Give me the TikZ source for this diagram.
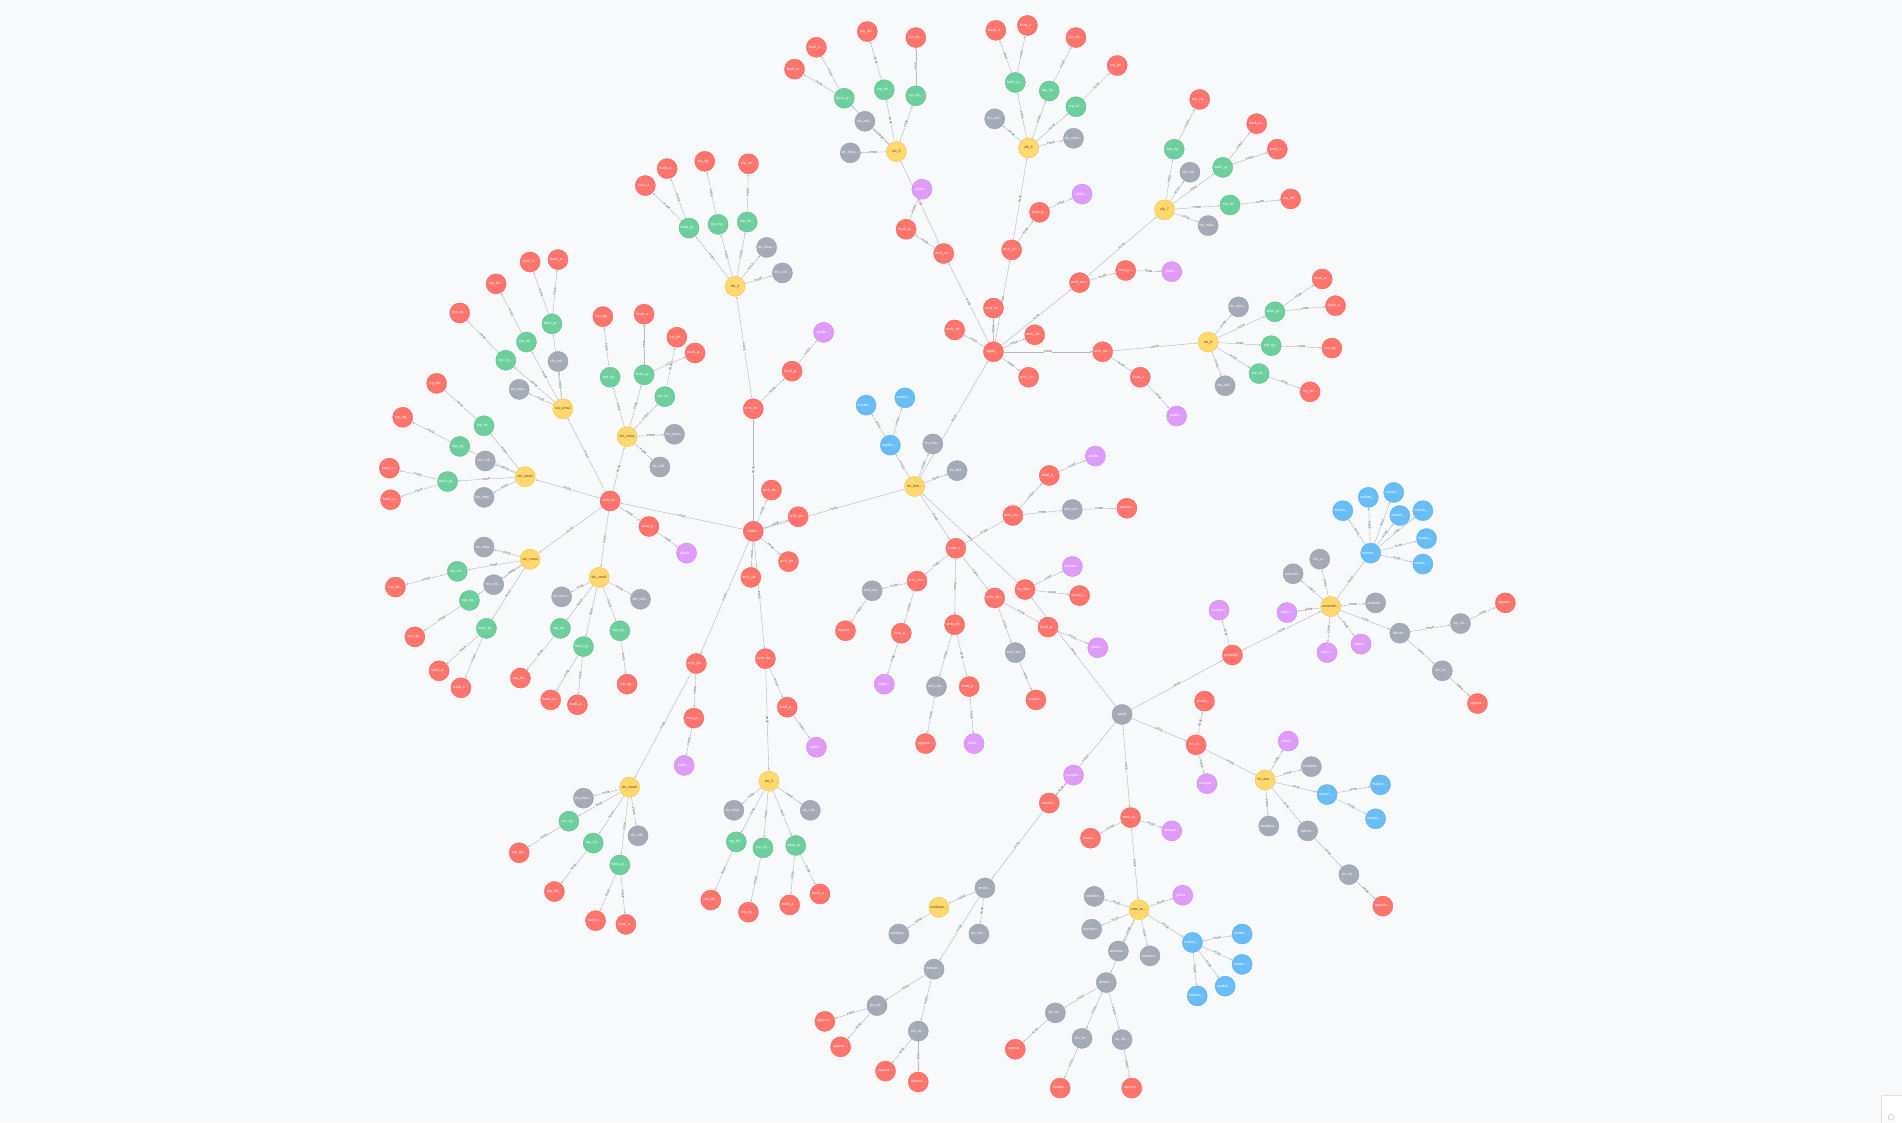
\documentclass[tikz,border=0pt]{standalone}
\usepackage{fontspec}
\setmainfont{Liberation Sans}
\usetikzlibrary{arrows.meta}
\definecolor{cRed}{HTML}{FF756E}\definecolor{cRedB}{HTML}{E8695F}
\definecolor{cGreen}{HTML}{6DCE9E}\definecolor{cGreenB}{HTML}{60BE8C}
\definecolor{cGray}{HTML}{A5ABB6}\definecolor{cGrayB}{HTML}{979DA8}
\definecolor{cYel}{HTML}{FFD86E}\definecolor{cYelB}{HTML}{EDC04A}\definecolor{cYelT}{HTML}{5A4A12}
\definecolor{cPur}{HTML}{DE9BF9}\definecolor{cPurB}{HTML}{CC88E8}
\definecolor{cBlue}{HTML}{68BDF6}\definecolor{cBlueB}{HTML}{5AAFE8}
\definecolor{cEdge}{HTML}{B4B9C2}\definecolor{cBg}{HTML}{F8F9FB}\definecolor{cLbl}{HTML}{444444}
\pgfdeclarelayer{back}\pgfdeclarelayer{edges}
\pgfsetlayers{back,edges,main}
\tikzset{
 nd/.style={circle,minimum size=0.83cm,inner sep=0pt,line width=0.4pt,font=\fontsize{4.2}{5}\selectfont,text=white},
 rd/.style={nd,fill=cRed,draw=cRedB},
 gn/.style={nd,fill=cGreen,draw=cGreenB},
 gy/.style={nd,fill=cGray,draw=cGrayB},
 yl/.style={nd,fill=cYel,draw=cYelB,text=cYelT},
 pp/.style={nd,fill=cPur,draw=cPurB},
 bl/.style={nd,fill=cBlue,draw=cBlueB},
 ed/.style={draw=cEdge,line width=0.5pt,-{Latex[length=2.6pt,width=2.2pt]}},
 lb/.style={font=\fontsize{3.3}{4}\selectfont,text=cLbl,fill=cBg,inner sep=0.6pt,sloped,midway}
}
\newcommand\edg[2]{\draw[ed] (#1) -- node[lb]{POSE} (#2);}
\begin{document}
\begin{tikzpicture}[x=0.05cm,y=-0.05cm]
\begin{pgfonlayer}{back}
\fill[cBg] (0,0) rectangle (1568,925);
\end{pgfonlayer}
\useasboundingbox (0,0) rectangle (1568,925);
% corner widget
\draw[fill=white,draw=gray!35,rounded corners=1.5] (1551,903) rectangle (1580,940);
\draw[gray!60,line width=0.4pt] (1559,921) circle (2.5);
% ===== center =====
\node[rd] (m) at (621,438) {middl…};
\node[rd] (m1) at (621,337) {arch\_slo…};
\node[rd] (m2) at (636,404) {arch\_slo…};
\node[rd] (m3) at (658,426) {arch\_slo…};
\node[rd] (m4) at (650,463) {arch\_slo…};
\node[rd] (m5) at (619,476) {arch\_slo…};
\node[rd] (m6) at (631,543) {arch\_slo…};
\node[rd] (m7) at (574,547) {arch\_slo…};
\node[rd] (as) at (503,413) {arch\_sl…};
\node[yl] (sf) at (754,401) {slo\_fixe…};
% m1 branch
\node[yl] (y1) at (606,236) {slo\_4};
\node[rd] (lp1) at (653,306) {local\_p…};
\node[pp] (pf1) at (679,274) {platfo…};
\node[gn] (y1a) at (568,188) {back\_gr…};
\node[rd] (y1ar1) at (532,153) {back\_a…};
\node[rd] (y1ar2) at (550,139) {back\_a…};
\node[gn] (y1b) at (592,185) {top\_rig…};
\node[rd] (y1br) at (581,133) {top\_rig…};
\node[gn] (y1c) at (616,183) {top\_lef…};
\node[rd] (y1cr) at (617,135) {top\_lef…};
\node[gy] (y1m) at (632,204) {slo\_miss…};
\node[gy] (y1k) at (645,225) {slo\_coll…};
% m6 branch
\node[yl] (y3) at (634,644) {slo\_3};
\node[rd] (lp6) at (649,583) {local\_p…};
\node[pp] (pf6) at (673,616) {platfo…};
\node[gy] (y3m) at (605,668) {slo\_miss…};
\node[gy] (y3k) at (668,668) {slo\_coll…};
\node[gn] (y3a) at (607,694) {top\_lef…};
\node[rd] (y3ar) at (586,742) {top\_lef…};
\node[gn] (y3b) at (629,699) {top\_rig…};
\node[rd] (y3br) at (617,752) {top\_rig…};
\node[gn] (y3c) at (656,697) {back\_gr…};
\node[rd] (y3cr1) at (651,746) {back\_a…};
\node[rd] (y3cr2) at (676,737) {back\_a…};
% m7 branch
\node[yl] (y6) at (519,649) {slo\_sma6};
\node[rd] (lp7) at (572,592) {local\_p…};
\node[pp] (pf7) at (564,631) {platfo…};
\node[gy] (y6m) at (481,658) {slo\_miss…};
\node[gn] (y6a) at (469,677) {top\_rig…};
\node[rd] (y6ar) at (428,703) {top\_rig…};
\node[gn] (y6b) at (489,695) {top\_lef…};
\node[rd] (y6br) at (457,735) {top\_lef…};
\node[gn] (y6c) at (511,713) {back\_gr…};
\node[rd] (y6cr1) at (491,759) {back\_a…};
\node[rd] (y6cr2) at (516,762) {back\_a…};
\node[gy] (y6k) at (526,689) {slo\_coll…};
% as branch
\node[yl] (s1) at (517,360) {slo\_sma1};
\node[yl] (s2) at (464,337) {slo\_sma2};
\node[yl] (s3) at (433,393) {slo\_sma3};
\node[yl] (s4) at (437,461) {slo\_sma4};
\node[yl] (s5) at (494,476) {slo\_sma5};
\node[rd] (lpa) at (535,434) {local\_p…};
\node[pp] (pfa) at (566,456) {platfo…};
\node[gy] (s1m) at (556,358) {slo\_miss…};
\node[gy] (s1k) at (544,385) {slo\_coll…};
\node[gn] (s1a) at (503,311) {top\_rig…};
\node[rd] (s1ar) at (497,261) {top\_rig…};
\node[gn] (s1b) at (531,309) {back\_gr…};
\node[rd] (s1br1) at (531,259) {back\_a…};
\node[rd] (s1br2) at (573,291) {back\_a…};
\node[gn] (s1c) at (548,327) {top\_lef…};
\node[rd] (s1cr) at (558,278) {top\_lef…};
\node[gy] (s2m) at (428,321) {slo\_miss…};
\node[gy] (s2k) at (460,298) {slo\_coll…};
\node[gn] (s2a) at (417,297) {top\_rig…};
\node[rd] (s2ar) at (379,258) {top\_rig…};
\node[gn] (s2b) at (434,282) {top\_lef…};
\node[rd] (s2br) at (409,234) {top\_lef…};
\node[gn] (s2c) at (455,267) {back\_gr…};
\node[rd] (s2cr1) at (437,216) {back\_a…};
\node[rd] (s2cr2) at (460,214) {back\_a…};
\node[gn] (s3a) at (399,351) {top\_lef…};
\node[rd] (s3ar) at (360,316) {top\_lef…};
\node[gn] (s3b) at (379,368) {top\_rig…};
\node[rd] (s3br) at (332,344) {top\_rig…};
\node[gy] (s3k) at (400,380) {slo\_coll…};
\node[gn] (s3c) at (369,397) {back\_gr…};
\node[rd] (s3cr1) at (321,386) {back\_a…};
\node[rd] (s3cr2) at (322,412) {back\_a…};
\node[gy] (s3m) at (399,410) {slo\_miss…};
\node[gy] (s4m) at (399,451) {slo\_miss…};
\node[gn] (s4a) at (377,471) {top\_lef…};
\node[rd] (s4ar) at (326,484) {top\_lef…};
\node[gy] (s4k) at (407,482) {slo\_coll…};
\node[gn] (s4b) at (387,495) {top\_rig…};
\node[rd] (s4br) at (342,525) {top\_rig…};
\node[gn] (s4c) at (401,518) {back\_gr…};
\node[rd] (s4cr1) at (362,553) {back\_a…};
\node[rd] (s4cr2) at (380,567) {back\_a…};
\node[gy] (s5m) at (463,492) {slo\_miss…};
\node[gy] (s5k) at (528,494) {slo\_coll…};
\node[gn] (s5a) at (462,518) {top\_lef…};
\node[rd] (s5ar) at (429,559) {top\_lef…};
\node[gn] (s5b) at (481,533) {back\_gr…};
\node[rd] (s5br1) at (454,577) {back\_a…};
\node[rd] (s5br2) at (476,581) {back\_a…};
\node[gn] (s5c) at (511,520) {top\_rig…};
\node[rd] (s5cr) at (517,564) {top\_rig…};
% sf branch
\node[bl] (mk) at (734,367) {marker\_…};
\node[bl] (mk1) at (714,334) {marker\_…};
\node[bl] (mk2) at (746,328) {marker\_…};
\node[gy] (sfg1) at (769,366) {slo\_fixe…};
\node[gy] (sfg2) at (789,388) {slo\_fixe…};
\node[rd] (u) at (819,290) {upper\_…};
\node[rd] (l) at (788,452) {lower\_s…};
\node[rd] (sfr) at (845,486) {slo\_fixe…};
% u branch
\node[rd] (a1) at (819,254) {arch\_slo…};
\node[rd] (a2) at (834,206) {arch\_slo…};
\node[rd] (a3) at (778,209) {arch\_slo…};
\node[rd] (a4) at (787,272) {arch\_slo…};
\node[rd] (a5) at (853,276) {arch\_slo…};
\node[rd] (a6) at (890,233) {arch\_slo…};
\node[rd] (a7) at (909,290) {arch\_slo…};
\node[rd] (a8) at (848,311) {arch\_slo…};
\node[yl] (y5) at (848,122) {slo\_6};
\node[rd] (lp2) at (857,175) {local\_p…};
\node[pp] (pf2) at (892,160) {platfo…};
\node[yl] (y4) at (739,125) {slo\_5};
\node[rd] (lp3) at (747,189) {local\_p…};
\node[pp] (pf3) at (760,156) {platfo…};
\node[yl] (y7) at (960,173) {slo\_7};
\node[rd] (lp6b) at (928,223) {local\_p…};
\node[pp] (pf6b) at (966,224) {platfo…};
\node[yl] (y8) at (996,282) {slo\_8};
\node[rd] (lp7b) at (940,311) {local\_p…};
\node[pp] (pf7b) at (970,343) {platfo…};
\node[gy] (y4m) at (701,126) {slo\_miss…};
\node[gy] (y4k) at (713,100) {slo\_coll…};
\node[gn] (y4a) at (696,81) {back\_gr…};
\node[rd] (y4ar1) at (655,57) {back\_a…};
\node[rd] (y4ar2) at (673,39) {back\_a…};
\node[gn] (y4b) at (729,74) {top\_lef…};
\node[rd] (y4br) at (715,26) {top\_lef…};
\node[gn] (y4c) at (755,79) {top\_rig…};
\node[rd] (y4cr) at (755,31) {top\_rig…};
\node[gy] (y5k) at (820,98) {slo\_coll…};
\node[gy] (y5m) at (885,114) {slo\_miss…};
\node[gn] (y5a) at (837,68) {back\_gr…};
\node[rd] (y5ar1) at (821,25) {back\_a…};
\node[rd] (y5ar2) at (847,21) {back\_a…};
\node[gn] (y5b) at (865,75) {top\_rig…};
\node[rd] (y5br) at (887,31) {top\_rig…};
\node[gn] (y5c) at (887,88) {top\_lef…};
\node[rd] (y5cr) at (921,54) {top\_lef…};
\node[gn] (y7a) at (968,123) {top\_rig…};
\node[rd] (y7ar) at (989,82) {top\_rig…};
\node[gy] (y7k) at (981,142) {slo\_coll…};
\node[gn] (y7b) at (1008,138) {back\_gr…};
\node[rd] (y7br1) at (1036,102) {back\_a…};
\node[rd] (y7br2) at (1053,123) {back\_a…};
\node[gn] (y7c) at (1014,169) {top\_lef…};
\node[rd] (y7cr) at (1064,164) {top\_lef…};
\node[gy] (y7m) at (996,186) {slo\_miss…};
\node[gy] (y8m) at (1021,253) {slo\_miss…};
\node[gn] (y8a) at (1051,257) {back\_gr…};
\node[rd] (y8ar1) at (1090,230) {back\_a…};
\node[rd] (y8ar2) at (1101,252) {back\_a…};
\node[gn] (y8b) at (1048,285) {top\_rig…};
\node[rd] (y8br) at (1098,287) {top\_rig…};
\node[gn] (y8c) at (1038,308) {top\_lef…};
\node[rd] (y8cr) at (1080,323) {top\_lef…};
\node[gy] (y8k) at (1010,318) {slo\_coll…};
% l branch
\node[rd] (b1) at (835,425) {arch\_slo…};
\node[rd] (b1l) at (865,392) {local\_p…};
\node[pp] (b1p) at (903,376) {platfo…};
\node[gy] (b1g) at (884,420) {arch\_slo…};
\node[rd] (b1r) at (929,419) {approa…};
\node[rd] (b2) at (756,479) {arch\_slo…};
\node[gy] (b2g) at (719,487) {arch\_slo…};
\node[rd] (b2r) at (697,520) {approa…};
\node[rd] (b2l) at (743,522) {local\_p…};
\node[pp] (b2p) at (729,564) {platfo…};
\node[rd] (b3) at (787,515) {arch\_slo…};
\node[gy] (b3g) at (772,566) {arch\_slo…};
\node[rd] (b3r) at (763,613) {approa…};
\node[rd] (b3l) at (799,566) {local\_p…};
\node[pp] (b3p) at (803,613) {platfo…};
\node[rd] (b4) at (820,493) {arch\_slo…};
\node[gy] (b4g) at (837,538) {arch\_slo…};
\node[rd] (b4r) at (854,577) {approa…};
\node[rd] (b4l) at (864,517) {local\_p…};
\node[pp] (b4p) at (905,534) {platfo…};
% sfr / world
\node[pp] (sfn) at (884,467) {navigati…};
\node[rd] (sfv) at (890,491) {visual\_r…};
\node[gy] (w) at (925,589) {world};
\node[rd] (ar) at (1016,540) {assembl…};
\node[rd] (hr) at (986,614) {hri\_sv…};
\node[rd] (hd) at (865,662) {handlin…};
\node[pp] (nv) at (885,639) {navigati…};
\node[rd] (hm) at (932,674) {sme\_su…};
\node[pp] (arn) at (1005,503) {navigati…};
\node[yl] (ay) at (1097,500) {assembl…};
\node[pp] (ay1) at (1061,505) {platfo…};
\node[gy] (ay2) at (1066,473) {assembl…};
\node[gy] (ay3) at (1088,461) {loc\_a…};
\node[bl] (mh) at (1130,456) {marker\_…};
\node[gy] (ay4) at (1134,497) {assembl…};
\node[gy] (dl) at (1154,522) {deliver…};
\node[pp] (ay5) at (1122,531) {platfo…};
\node[pp] (ay6) at (1094,538) {platfo…};
\node[bl] (mh1) at (1107,421) {marker\_…};
\node[bl] (mh2) at (1128,410) {marker\_…};
\node[bl] (mh3) at (1149,406) {marker\_…};
\node[bl] (mh4) at (1154,425) {marker\_…};
\node[bl] (mh5) at (1173,421) {marker\_…};
\node[bl] (mh6) at (1176,444) {marker\_…};
\node[bl] (mh7) at (1173,465) {marker\_…};
\node[gy] (dls1) at (1204,514) {slo\_str…};
\node[rd] (dlr1) at (1241,497) {approa…};
\node[gy] (dls2) at (1189,553) {slo\_str…};
\node[rd] (dlr2) at (1218,580) {approa…};
\node[rd] (hrv) at (993,578) {visual\_r…};
\node[pp] (hrn) at (995,646) {navigati…};
\node[yl] (hw) at (1043,643) {hri\_wor…};
\node[pp] (hw1) at (1062,611) {platfo…};
\node[gy] (hw2) at (1081,632) {workben…};
\node[bl] (hmk) at (1094,655) {marker\_…};
\node[bl] (hmk1) at (1138,647) {marker\_…};
\node[bl] (hmk2) at (1134,675) {marker\_…};
\node[gy] (hw3) at (1046,681) {workben…};
\node[gy] (hwd) at (1078,685) {deliver…};
\node[gy] (hws) at (1112,721) {slo\_str…};
\node[rd] (hwr) at (1140,747) {approa…};
\node[gy] (en) at (812,732) {enviro…};
\node[yl] (wy) at (774,748) {workspa…};
\node[gy] (wyg) at (741,770) {workspa…};
\node[gy] (enl) at (807,770) {loc\_fixe…};
\node[gy] (tr) at (770,799) {transpo…};
\node[gy] (ss1) at (723,829) {slo\_str…};
\node[rd] (ss1r1) at (680,842) {approa…};
\node[rd] (ss1r2) at (693,863) {approa…};
\node[gy] (ss2) at (757,850) {slo\_str…};
\node[rd] (ss2r1) at (730,883) {approa…};
\node[rd] (ss2r2) at (757,892) {approa…};
\node[rd] (hmv) at (899,691) {visual\_r…};
\node[pp] (hmn) at (966,685) {navigati…};
\node[yl] (sa) at (939,750) {sme\_as…};
\node[gy] (sa1) at (902,739) {workben…};
\node[gy] (sa2) at (900,766) {workben…};
\node[gy] (sa3) at (922,784) {workben…};
\node[gy] (sa4) at (948,788) {workben…};
\node[pp] (sap) at (975,738) {platfo…};
\node[bl] (smk) at (983,777) {marker\_…};
\node[bl] (smk1) at (1024,770) {marker\_…};
\node[bl] (smk2) at (1024,795) {marker\_…};
\node[bl] (smk3) at (1010,813) {marker\_…};
\node[bl] (smk4) at (987,821) {marker\_…};
\node[gy] (dv) at (912,810) {deliver…};
\node[gy] (dvs1) at (870,835) {slo\_str…};
\node[rd] (dvr1) at (837,865) {approa…};
\node[gy] (dvs2) at (892,856) {slo\_str…};
\node[rd] (dvr2) at (874,897) {approa…};
\node[gy] (dvs3) at (925,857) {slo\_str…};
\node[rd] (dvr3) at (933,897) {approa…};
\begin{pgfonlayer}{edges}
\edg{m}{as}\edg{m}{m1}\edg{m}{m2}\edg{m}{m3}\edg{m}{m4}\edg{m}{m5}\edg{m}{m6}\edg{m}{m7}\edg{sf}{m}
\edg{m1}{y1}\edg{m1}{lp1}\edg{lp1}{pf1}
\edg{y1}{y1a}\edg{y1a}{y1ar1}\edg{y1a}{y1ar2}\edg{y1}{y1b}\edg{y1b}{y1br}\edg{y1}{y1c}\edg{y1c}{y1cr}\edg{y1}{y1m}\edg{y1}{y1k}
\edg{m6}{y3}\edg{m6}{lp6}\edg{lp6}{pf6}
\edg{y3}{y3m}\edg{y3}{y3k}\edg{y3}{y3a}\edg{y3a}{y3ar}\edg{y3}{y3b}\edg{y3b}{y3br}\edg{y3}{y3c}\edg{y3c}{y3cr1}\edg{y3c}{y3cr2}
\edg{m7}{y6}\edg{m7}{lp7}\edg{lp7}{pf7}
\edg{y6}{y6m}\edg{y6}{y6a}\edg{y6a}{y6ar}\edg{y6}{y6b}\edg{y6b}{y6br}\edg{y6}{y6c}\edg{y6c}{y6cr1}\edg{y6c}{y6cr2}\edg{y6}{y6k}
\edg{as}{s1}\edg{as}{s2}\edg{as}{s3}\edg{as}{s4}\edg{as}{s5}\edg{as}{lpa}\edg{lpa}{pfa}
\edg{s1}{s1m}\edg{s1}{s1k}\edg{s1}{s1a}\edg{s1a}{s1ar}\edg{s1}{s1b}\edg{s1b}{s1br1}\edg{s1b}{s1br2}\edg{s1}{s1c}\edg{s1c}{s1cr}
\edg{s2}{s2m}\edg{s2}{s2k}\edg{s2}{s2a}\edg{s2a}{s2ar}\edg{s2}{s2b}\edg{s2b}{s2br}\edg{s2}{s2c}\edg{s2c}{s2cr1}\edg{s2c}{s2cr2}
\edg{s3}{s3a}\edg{s3a}{s3ar}\edg{s3}{s3b}\edg{s3b}{s3br}\edg{s3}{s3k}\edg{s3}{s3c}\edg{s3c}{s3cr1}\edg{s3c}{s3cr2}\edg{s3}{s3m}
\edg{s4}{s4m}\edg{s4}{s4a}\edg{s4a}{s4ar}\edg{s4}{s4k}\edg{s4}{s4b}\edg{s4b}{s4br}\edg{s4}{s4c}\edg{s4c}{s4cr1}\edg{s4c}{s4cr2}
\edg{s5}{s5m}\edg{s5}{s5k}\edg{s5}{s5a}\edg{s5a}{s5ar}\edg{s5}{s5b}\edg{s5b}{s5br1}\edg{s5b}{s5br2}\edg{s5}{s5c}\edg{s5c}{s5cr}
\edg{sf}{mk}\edg{mk}{mk1}\edg{mk}{mk2}\edg{sf}{sfg1}\edg{sf}{sfg2}\edg{sf}{u}\edg{sf}{l}\edg{sfr}{sf}
\edg{u}{a1}\edg{u}{a2}\edg{u}{a3}\edg{u}{a4}\edg{u}{a5}\edg{u}{a6}\edg{u}{a7}\edg{u}{a8}
\edg{a2}{y5}\edg{a2}{lp2}\edg{lp2}{pf2}
\edg{a3}{y4}\edg{a3}{lp3}\edg{lp3}{pf3}
\edg{a6}{y7}\edg{a6}{lp6b}\edg{lp6b}{pf6b}
\edg{a7}{y8}\edg{a7}{lp7b}\edg{lp7b}{pf7b}
\edg{y4}{y4m}\edg{y4}{y4k}\edg{y4}{y4a}\edg{y4a}{y4ar1}\edg{y4a}{y4ar2}\edg{y4}{y4b}\edg{y4b}{y4br}\edg{y4}{y4c}\edg{y4c}{y4cr}
\edg{y5}{y5k}\edg{y5}{y5m}\edg{y5}{y5a}\edg{y5a}{y5ar1}\edg{y5a}{y5ar2}\edg{y5}{y5b}\edg{y5b}{y5br}\edg{y5}{y5c}\edg{y5c}{y5cr}
\edg{y7}{y7a}\edg{y7a}{y7ar}\edg{y7}{y7k}\edg{y7}{y7b}\edg{y7b}{y7br1}\edg{y7b}{y7br2}\edg{y7}{y7c}\edg{y7c}{y7cr}\edg{y7}{y7m}
\edg{y8}{y8m}\edg{y8}{y8a}\edg{y8a}{y8ar1}\edg{y8a}{y8ar2}\edg{y8}{y8b}\edg{y8b}{y8br}\edg{y8}{y8c}\edg{y8c}{y8cr}\edg{y8}{y8k}
\edg{l}{b1}\edg{b1}{b1l}\edg{b1l}{b1p}\edg{b1}{b1g}\edg{b1g}{b1r}
\edg{l}{b2}\edg{b2}{b2g}\edg{b2g}{b2r}\edg{b2}{b2l}\edg{b2l}{b2p}
\edg{l}{b3}\edg{b3}{b3g}\edg{b3g}{b3r}\edg{b3}{b3l}\edg{b3l}{b3p}
\edg{l}{b4}\edg{b4}{b4g}\edg{b4g}{b4r}\edg{b4}{b4l}\edg{b4l}{b4p}
\edg{sfr}{sfn}\edg{sfr}{sfv}\edg{w}{sfr}
\edg{w}{ar}\edg{ar}{arn}\edg{ar}{ay}
\edg{ay}{ay1}\edg{ay}{ay2}\edg{ay}{ay3}\edg{ay}{mh}\edg{ay}{ay4}\edg{ay}{dl}\edg{ay}{ay5}\edg{ay}{ay6}
\edg{mh}{mh1}\edg{mh}{mh2}\edg{mh}{mh3}\edg{mh}{mh4}\edg{mh}{mh5}\edg{mh}{mh6}\edg{mh}{mh7}
\edg{dl}{dls1}\edg{dls1}{dlr1}\edg{dl}{dls2}\edg{dls2}{dlr2}
\edg{w}{hr}\edg{hr}{hrv}\edg{hr}{hrn}\edg{hr}{hw}
\edg{hw}{hw1}\edg{hw}{hw2}\edg{hw}{hmk}\edg{hmk}{hmk1}\edg{hmk}{hmk2}\edg{hw}{hw3}\edg{hw}{hwd}\edg{hwd}{hws}\edg{hws}{hwr}
\edg{w}{hd}\edg{hd}{nv}\edg{hd}{en}
\edg{en}{wy}\edg{wy}{wyg}\edg{en}{enl}\edg{en}{tr}
\edg{tr}{ss1}\edg{ss1}{ss1r1}\edg{ss1}{ss1r2}\edg{tr}{ss2}\edg{ss2}{ss2r1}\edg{ss2}{ss2r2}
\edg{w}{hm}\edg{hm}{hmv}\edg{hm}{hmn}\edg{hm}{sa}
\edg{sa}{sa1}\edg{sa}{sa2}\edg{sa}{sa3}\edg{sa}{sa4}\edg{sa}{sap}\edg{sa}{smk}\edg{sa}{dv}
\edg{smk}{smk1}\edg{smk}{smk2}\edg{smk}{smk3}\edg{smk}{smk4}
\edg{dv}{dvs1}\edg{dvs1}{dvr1}\edg{dv}{dvs2}\edg{dvs2}{dvr2}\edg{dv}{dvs3}\edg{dvs3}{dvr3}
\end{pgfonlayer}
\end{tikzpicture}
\end{document}
